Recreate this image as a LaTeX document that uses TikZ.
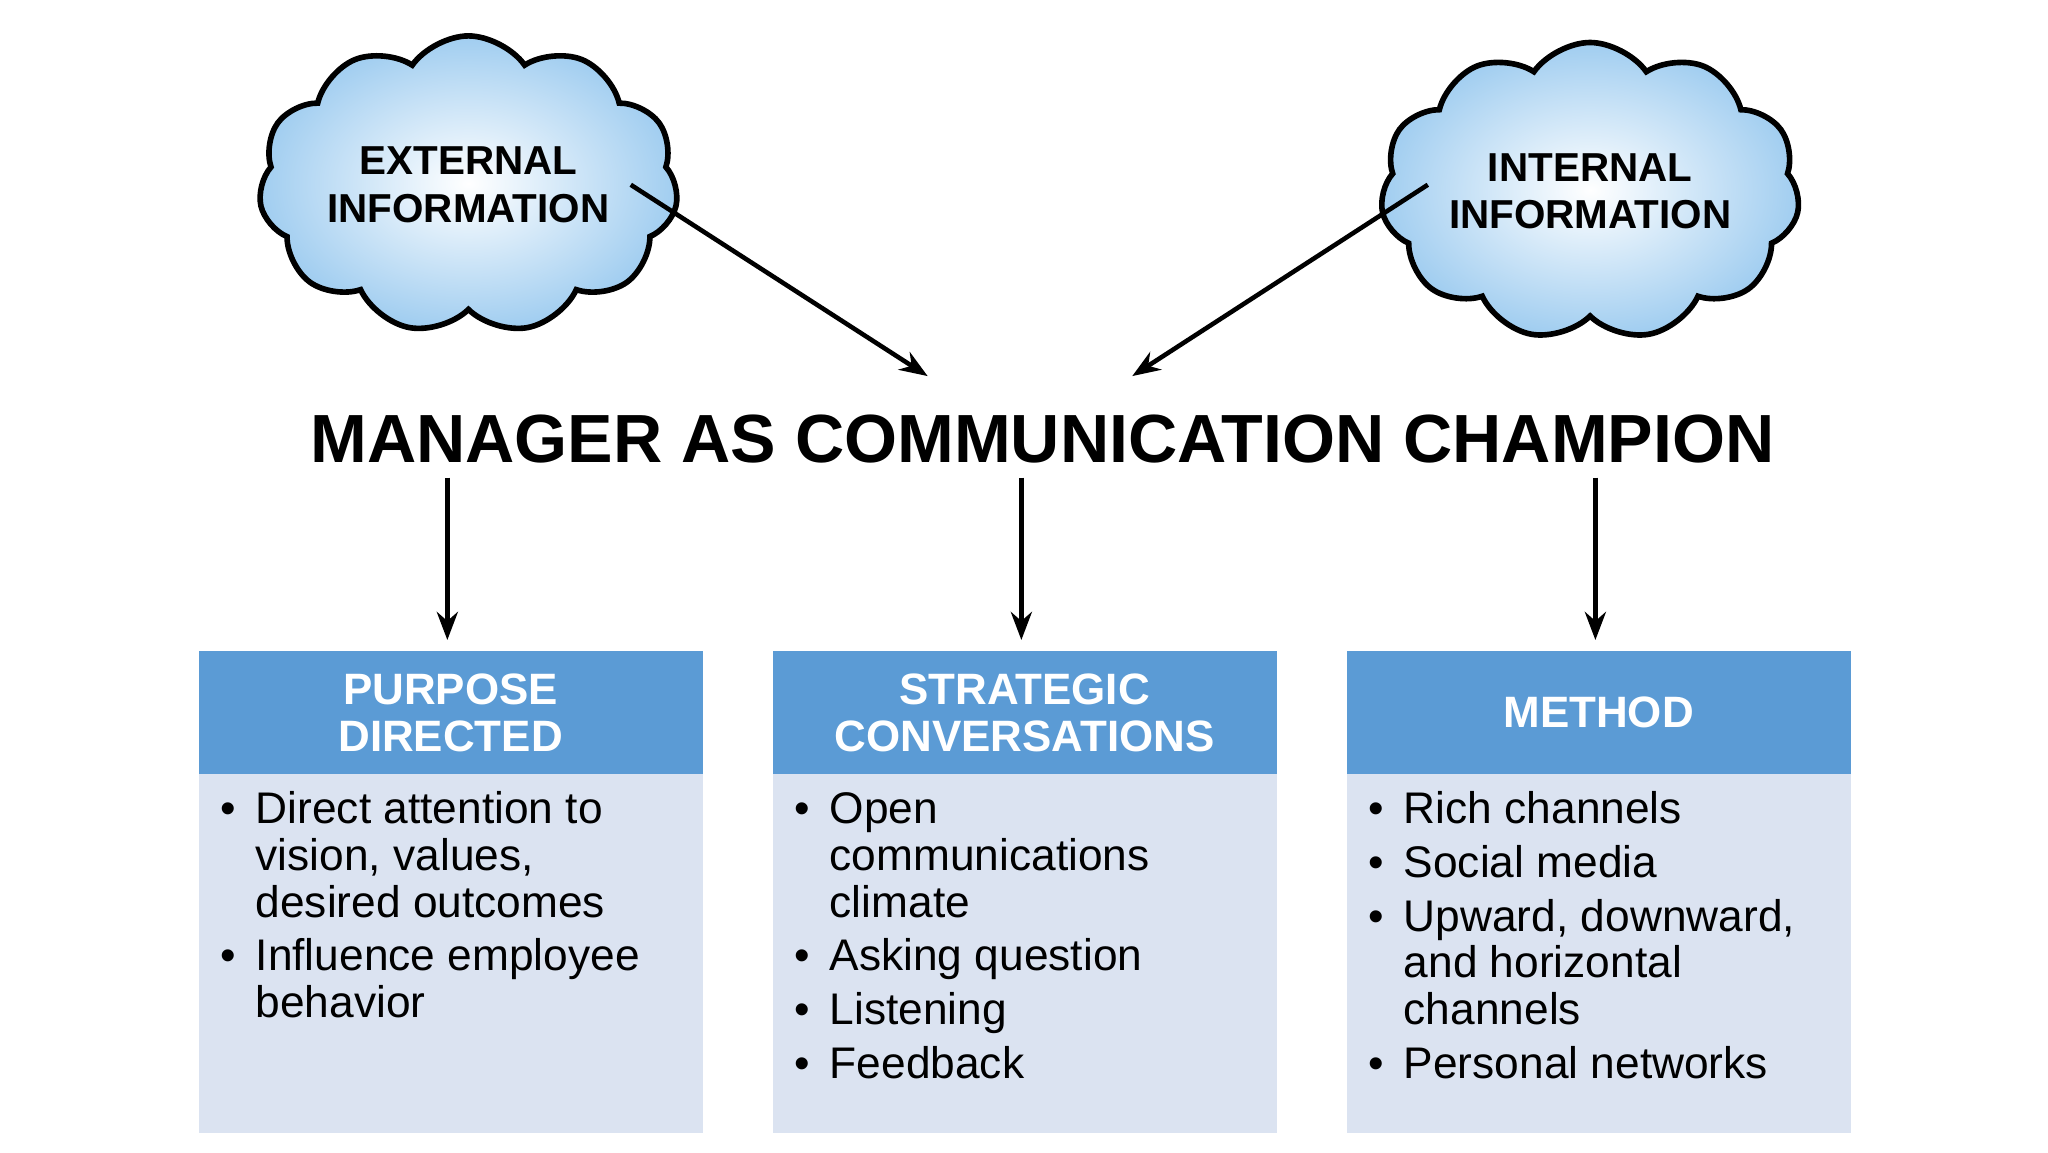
\documentclass[tikz,border=0pt]{standalone}
\usepackage{fontspec}
\setmainfont{Liberation Sans}
\usetikzlibrary{shapes.symbols,arrows.meta}
\definecolor{hd}{RGB}{91,155,213}
\definecolor{bd}{RGB}{219,227,241}
\definecolor{cl}{RGB}{160,205,240}
\begin{document}
\begin{tikzpicture}[x=0.013196cm,y=-0.013196cm,
 cloudn/.style={cloud,cloud puffs=11,cloud puff arc=110,aspect=1.6,draw=black,line width=1.6pt,
   inner color=white,outer color=cl,minimum width=102pt,minimum height=63pt,inner sep=0pt,align=center,
   font=\fontsize{11.5}{13.5}\selectfont\bfseries},
 arr/.style={-{Stealth[length=8pt,width=6pt]},line width=1.3pt},
 head/.style={fill=hd,minimum width=143.4pt,minimum height=34.9pt,anchor=north west,text=white,align=center,
   inner sep=0pt,font=\fontsize{12.5}{13.5}\selectfont\bfseries},
 body/.style={fill=bd,minimum width=143.4pt,minimum height=102.1pt,anchor=north west,inner sep=0pt},
 list/.style={anchor=north west,align=left,font=\fontsize{12.6}{13.3}\selectfont}]
\useasboundingbox (0,0) rectangle (1552,873);
\node[cloudn] (ext) at (355,140) {EXTERNAL\\INFORMATION};
\node[cloudn] (int) at (1205,145) {INTERNAL\\INFORMATION};
\node[font=\fontsize{19.4}{22}\selectfont\bfseries] (title) at (790,333) {MANAGER AS COMMUNICATION CHAMPION};
\coordinate (e1) at (478,140); \coordinate (e2) at (703,285);
\coordinate (i1) at (1082,140); \coordinate (i2) at (858,285);
\draw[arr] (e1) -- (e2);
\draw[arr] (i1) -- (i2);
\foreach \x/\n in {150/a,585/b,1020/c}{
  \node[body] (b\n) at (\x,586) {};
  \node[head] (h\n) at (\x,493) {};
  \coordinate (t\n) at (\x+189,362);
  \coordinate (u\n) at (\x+189,485);
  \draw[arr] (t\n) -- (u\n);
}
\node[head] at (ha.north west) {PURPOSE\\DIRECTED};
\node[head] at (hb.north west) {STRATEGIC\\CONVERSATIONS};
\node[head] at (hc.north west) {METHOD};
\node[list] (la) at (158,590) {\begin{tabular}{@{}l@{\hspace{5.5pt}}l@{}}
\textbullet & Direct attention to\\ & vision, values,\\ & desired outcomes\\[2pt]
\textbullet & Influence employee\\ & behavior\end{tabular}};
\node[list] (lb) at (593,590) {\begin{tabular}{@{}l@{\hspace{5.5pt}}l@{}}
\textbullet & Open\\ & communications\\ & climate\\[2pt]
\textbullet & Asking question\\[2pt] \textbullet & Listening\\[2pt] \textbullet & Feedback\end{tabular}};
\node[list] (lc) at (1028,590) {\begin{tabular}{@{}l@{\hspace{5.5pt}}l@{}}
\textbullet & Rich channels\\[2pt] \textbullet & Social media\\[2pt]
\textbullet & Upward, downward,\\ & and horizontal\\ & channels\\[2pt]
\textbullet & Personal networks\end{tabular}};
\end{tikzpicture}
\end{document}
